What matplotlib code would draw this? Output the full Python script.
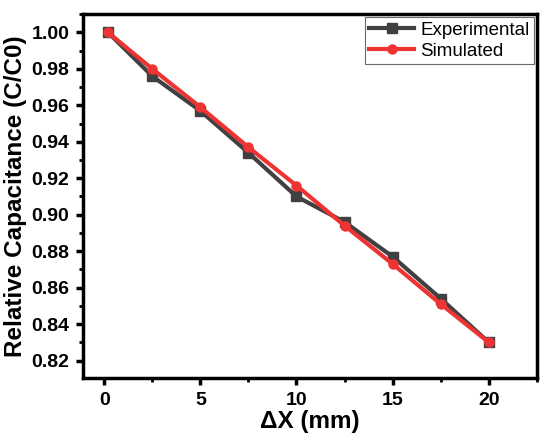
import numpy as np
import matplotlib
matplotlib.use('Agg')
from matplotlib import pyplot as plt, rcParams
from matplotlib.ticker import MultipleLocator, FormatStrFormatter

rcParams['font.family'] = ['Liberation Sans', 'DejaVu Sans']
rcParams['font.weight'] = 'bold'

dx = [0.2, 2.5, 5, 7.5, 10, 12.5, 15, 17.5, 20]
experimental = [1.000, 0.976, 0.957, 0.934, 0.910, 0.896, 0.877, 0.854, 0.830]
simulated = [1.000, 0.980, 0.959, 0.937, 0.916, 0.894, 0.873, 0.851, 0.830]

fig = plt.figure(figsize=(5.5, 4.44), dpi=100)
ax = fig.add_axes([0.151, 0.149, 0.825, 0.819])

ax.plot(dx, experimental, '-s', color='#404040', lw=3, ms=6.5, label='Experimental')
ax.plot(dx, simulated, '-o', color='#ee3333', lw=3, ms=6.5, label='Simulated')

ax.set_xlim(-1.1, 22.5)
ax.set_ylim(0.8105, 1.010)
ax.xaxis.set_major_locator(MultipleLocator(5))
ax.xaxis.set_minor_locator(MultipleLocator(2.5))
ax.yaxis.set_major_locator(MultipleLocator(0.02))
ax.yaxis.set_minor_locator(MultipleLocator(0.01))
ax.yaxis.set_major_formatter(FormatStrFormatter('%.2f'))

for s in ax.spines.values():
    s.set_linewidth(2.5)
ax.tick_params(which='major', direction='out', length=5, width=2.5, labelsize=14, pad=5)
ax.tick_params(which='minor', direction='out', length=3, width=2)
for lbl in ax.get_xticklabels() + ax.get_yticklabels():
    lbl.set_fontweight('bold')

ax.set_xlabel(u'\u0394X (mm)', fontsize=17.5, fontweight='bold', labelpad=1)
ax.set_ylabel('Relative Capacitance (C/C0)', fontsize=17.5, fontweight='bold', labelpad=3)

leg = ax.legend(loc='upper right', handlelength=2.4, fancybox=False,
                borderaxespad=0.15, borderpad=0.25, labelspacing=0.2, handletextpad=0.3,
                prop={'weight': 'normal', 'size': 13.5})
leg.get_frame().set_edgecolor('#444444')
leg.get_frame().set_linewidth(0.8)

plt.savefig('out.png', dpi=100)
